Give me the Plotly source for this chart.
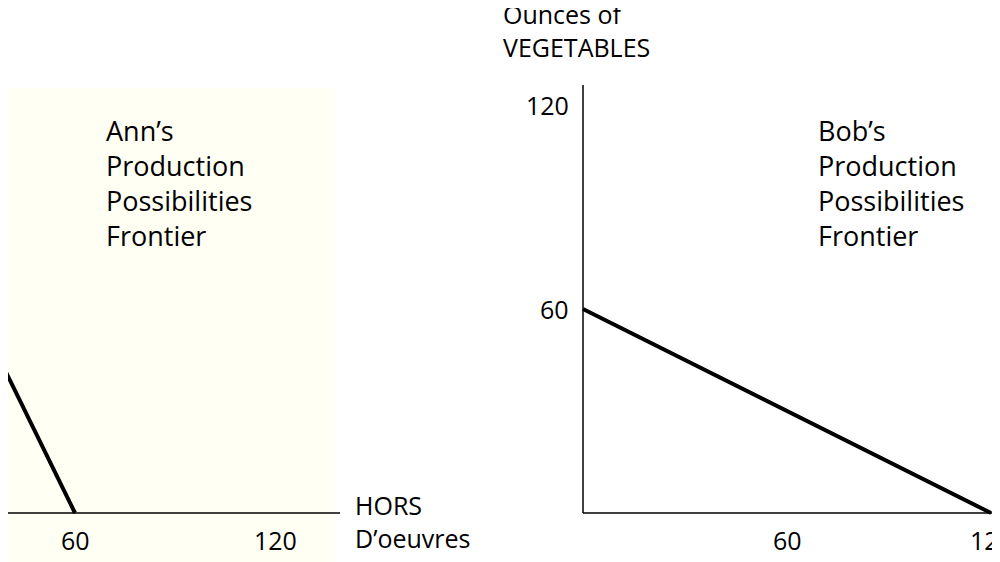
import plotly.graph_objects as go

ann_x = [0, 60]
ann_y = [120, 0]
bob_x = [0, 120]
bob_y = [60, 0]
x_ticks = [60, 120]
y_ticks = [60, 120]

W, H = 1000, 562
O = 8  # page body offset
Y0 = 513 - O
k = 60/204
yr = [-(H-Y0)*k, Y0*k]
kl = 60/200
lx0 = (125+O)*kl
X2 = 583 - O
fig = go.Figure()
fig.add_trace(go.Scatter(x=ann_x, y=ann_y, mode="lines", line=dict(color="black", width=4), xaxis="x", yaxis="y", showlegend=False))
fig.add_trace(go.Scatter(x=bob_x, y=bob_y, mode="lines", line=dict(color="black", width=4), xaxis="x2", yaxis="y", showlegend=False, cliponaxis=False))
font = dict(family="Open Sans", size=27, color="black")
fig.update_layout(
    width=W, height=H, margin=dict(l=0, r=0, t=0, b=0),
    paper_bgcolor="white", plot_bgcolor="rgba(0,0,0,0)",
    xaxis=dict(domain=[0, 0.34], range=[lx0, lx0+340*kl], showgrid=False, zeroline=False, showticklabels=False),
    xaxis2=dict(domain=[0.5, 1.0], range=[-(X2-500)*k, (1000-X2)*k], showgrid=False, zeroline=False, showticklabels=False),
    yaxis=dict(domain=[0, 1], range=yr, showgrid=False, zeroline=False, showticklabels=False),
    font=font,
)
shapes = [
    dict(type="rect", xref="paper", yref="paper", x0=0, x1=(335-O)/W, y0=0, y1=1-(88-O)/H, fillcolor="#fffff4", line=dict(width=0), layer="below"),
    dict(type="line", xref="x", yref="y", x0=lx0, x1=lx0+(340-O)*kl, y0=0, y1=0, line=dict(color="black", width=1.5)),
    dict(type="line", xref="x2", yref="y", x0=0, x1=(1000-X2)*k, y0=0, y1=0, line=dict(color="black", width=1.5)),
    dict(type="line", xref="x2", yref="y", x0=0, x1=0, y0=0, y1=(513-85)*k, line=dict(color="black", width=1.5)),
]
anns = []
for t in x_ticks:
    anns.append(dict(x=t, y=0, xref="x", yref="y", text=str(t), showarrow=False, yanchor="top", yshift=-8, font=dict(size=25)))
    anns.append(dict(x=t, y=0, xref="x2", yref="y", text=str(t), showarrow=False, yanchor="top", yshift=-8, font=dict(size=25)))
for t in y_ticks:
    anns.append(dict(x=0, y=t, xref="x2", yref="y", text=str(t), showarrow=False, xanchor="right", xshift=-12, font=dict(size=25)))
def pa(x, y, text, **kw):
    anns.append(dict(x=(x-O)/W, y=1-(y-O)/H, xref="paper", yref="paper", text=text, showarrow=False, xanchor="left", yanchor="top", align="left", **kw))
pa(104, 110, "Ann’s<br>Production<br>Possibilities<br>Frontier")
pa(816, 110, "Bob’s<br>Production<br>Possibilities<br>Frontier")
pa(501, -5, "Ounces of<br>VEGETABLES", font=dict(size=25))
pa(353, 486, "HORS<br>D’oeuvres", font=dict(size=25))
fig.update_layout(shapes=shapes, annotations=anns)
fig.write_html("out.html")
